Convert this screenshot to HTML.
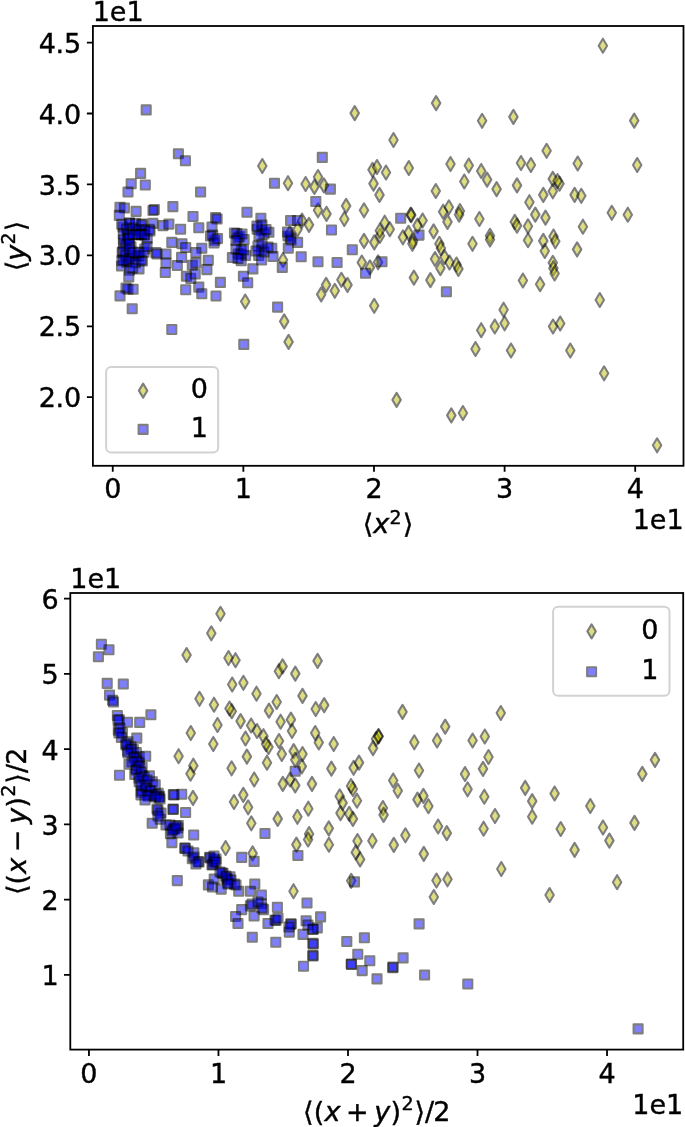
<!DOCTYPE html><html><head><meta charset="utf-8"><style>html,body{margin:0;padding:0;background:#fff;width:685px;height:1127px;overflow:hidden}svg{display:block}g.m>*{opacity:.5;stroke-linejoin:round}text{font-family:"DejaVu Sans","Liberation Sans",sans-serif;font-size:27px;fill:#000;stroke:#000;stroke-width:.4px}</style></head><body>
<svg width="685" height="1127" viewBox="0 0 685 1127">
<rect width="685" height="1127" fill="#fff"/>
<g class="m" fill="rgb(191,191,0)" stroke="#000" stroke-width="2.1">
<path d="M354.7 106.1L358.9 113.1L354.7 120.1L350.5 113.1Z"/>
<path d="M393.5 133L397.7 140L393.5 147L389.3 140Z"/>
<path d="M318 170L322.2 177L318 184L313.8 177Z"/>
<path d="M262.3 159L266.5 166L262.3 173L258.1 166Z"/>
<path d="M372.5 162.8L376.7 169.8L372.5 176.8L368.3 169.8Z"/>
<path d="M377 160L381.2 167L377 174L372.8 167Z"/>
<path d="M386 165.5L390.2 172.5L386 179.5L381.8 172.5Z"/>
<path d="M436.1 96.1L440.3 103.1L436.1 110.1L431.9 103.1Z"/>
<path d="M482.1 113.8L486.3 120.8L482.1 127.8L477.9 120.8Z"/>
<path d="M513.4 109.9L517.6 116.9L513.4 123.9L509.2 116.9Z"/>
<path d="M408.8 161L413 168L408.8 175L404.6 168Z"/>
<path d="M450.5 157L454.7 164L450.5 171L446.3 164Z"/>
<path d="M468.8 158.5L473 165.5L468.8 172.5L464.6 165.5Z"/>
<path d="M481.2 164L485.4 171L481.2 178L477 171Z"/>
<path d="M521 156L525.2 163L521 170L516.8 163Z"/>
<path d="M530.9 158L535.1 165L530.9 172L526.7 165Z"/>
<path d="M602.9 38.7L607.1 45.7L602.9 52.7L598.7 45.7Z"/>
<path d="M634.2 113.6L638.4 120.6L634.2 127.6L630 120.6Z"/>
<path d="M546.6 143.8L550.8 150.8L546.6 157.8L542.4 150.8Z"/>
<path d="M577.7 156.5L581.9 163.5L577.7 170.5L573.5 163.5Z"/>
<path d="M637.2 158L641.4 165L637.2 172L633 165Z"/>
<path d="M288 176.2L292.2 183.2L288 190.2L283.8 183.2Z"/>
<path d="M305.6 177L309.8 184L305.6 191L301.4 184Z"/>
<path d="M314.4 179.9L318.6 186.9L314.4 193.9L310.2 186.9Z"/>
<path d="M323.9 178.4L328.1 185.4L323.9 192.4L319.7 185.4Z"/>
<path d="M318 203.3L322.2 210.3L318 217.3L313.8 210.3Z"/>
<path d="M326.5 206.9L330.7 213.9L326.5 220.9L322.3 213.9Z"/>
<path d="M346.1 198.9L350.3 205.9L346.1 212.9L341.9 205.9Z"/>
<path d="M344.3 212L348.5 219L344.3 226L340.1 219Z"/>
<path d="M364 203.3L368.2 210.3L364 217.3L359.8 210.3Z"/>
<path d="M373.5 176.6L377.7 183.6L373.5 190.6L369.3 183.6Z"/>
<path d="M379.5 187.9L383.7 194.9L379.5 201.9L375.3 194.9Z"/>
<path d="M302 213.5L306.2 220.5L302 227.5L297.8 220.5Z"/>
<path d="M309 217.9L313.2 224.9L309 231.9L304.8 224.9Z"/>
<path d="M297.6 222.2L301.8 229.2L297.6 236.2L293.4 229.2Z"/>
<path d="M289.6 226.6L293.8 233.6L289.6 240.6L285.4 233.6Z"/>
<path d="M364 233.9L368.2 240.9L364 247.9L359.8 240.9Z"/>
<path d="M374.3 235.4L378.5 242.4L374.3 249.4L370.1 242.4Z"/>
<path d="M380 228.8L384.2 235.8L380 242.8L375.8 235.8Z"/>
<path d="M379.8 223.7L384 230.7L379.8 237.7L375.6 230.7Z"/>
<path d="M361.8 255.5L366 262.5L361.8 269.5L357.6 262.5Z"/>
<path d="M283 253L287.2 260L283 267L278.8 260Z"/>
<path d="M435.8 184L440 191L435.8 198L431.6 191Z"/>
<path d="M464.3 174.5L468.5 181.5L464.3 188.5L460.1 181.5Z"/>
<path d="M410.7 207.6L414.9 214.6L410.7 221.6L406.5 214.6Z"/>
<path d="M411.2 208.1L415.4 215.1L411.2 222.1L407 215.1Z"/>
<path d="M422.6 213.5L426.8 220.5L422.6 227.5L418.4 220.5Z"/>
<path d="M417.5 218.6L421.7 225.6L417.5 232.6L413.3 225.6Z"/>
<path d="M408.5 225.9L412.7 232.9L408.5 239.9L404.3 232.9Z"/>
<path d="M402.9 230.3L407.1 237.3L402.9 244.3L398.7 237.3Z"/>
<path d="M413.1 233.9L417.3 240.9L413.1 247.9L408.9 240.9Z"/>
<path d="M412.4 236.8L416.6 243.8L412.4 250.8L408.2 243.8Z"/>
<path d="M384.7 215.7L388.9 222.7L384.7 229.7L380.5 222.7Z"/>
<path d="M389.8 222.2L394 229.2L389.8 236.2L385.6 229.2Z"/>
<path d="M433.6 224.4L437.8 231.4L433.6 238.4L429.4 231.4Z"/>
<path d="M443.1 204.7L447.3 211.7L443.1 218.7L438.9 211.7Z"/>
<path d="M448.9 200.3L453.1 207.3L448.9 214.3L444.7 207.3Z"/>
<path d="M447.5 214.9L451.7 221.9L447.5 228.9L443.3 221.9Z"/>
<path d="M459.9 204L464.1 211L459.9 218L455.7 211Z"/>
<path d="M459.1 207.6L463.3 214.6L459.1 221.6L454.9 214.6Z"/>
<path d="M439.4 236.8L443.6 243.8L439.4 250.8L435.2 243.8Z"/>
<path d="M440.9 241.2L445.1 248.2L440.9 255.2L436.7 248.2Z"/>
<path d="M435 252L439.2 259L435 266L430.8 259Z"/>
<path d="M444.5 250L448.7 257L444.5 264L440.3 257Z"/>
<path d="M449.5 255.5L453.7 262.5L449.5 269.5L445.3 262.5Z"/>
<path d="M456.5 257.5L460.7 264.5L456.5 271.5L452.3 264.5Z"/>
<path d="M458.4 261.9L462.6 268.9L458.4 275.9L454.2 268.9Z"/>
<path d="M472.5 236.8L476.7 243.8L472.5 250.8L468.3 243.8Z"/>
<path d="M487.1 172.6L491.3 179.6L487.1 186.6L482.9 179.6Z"/>
<path d="M496.6 182.1L500.8 189.1L496.6 196.1L492.4 189.1Z"/>
<path d="M517 178.4L521.2 185.4L517 192.4L512.8 185.4Z"/>
<path d="M552.8 171.9L557 178.9L552.8 185.9L548.6 178.9Z"/>
<path d="M559.5 176.6L563.7 183.6L559.5 190.6L555.3 183.6Z"/>
<path d="M557.5 174L561.7 181L557.5 188L553.3 181Z"/>
<path d="M543.3 187.9L547.5 194.9L543.3 201.9L539.1 194.9Z"/>
<path d="M552.8 184.3L557 191.3L552.8 198.3L548.6 191.3Z"/>
<path d="M529.4 195.2L533.6 202.2L529.4 209.2L525.2 202.2Z"/>
<path d="M535.3 207.6L539.5 214.6L535.3 221.6L531.1 214.6Z"/>
<path d="M545.5 210.6L549.7 217.6L545.5 224.6L541.3 217.6Z"/>
<path d="M479.4 212L483.6 219L479.4 226L475.2 219Z"/>
<path d="M514.8 214.9L519 221.9L514.8 228.9L510.6 221.9Z"/>
<path d="M517 218.6L521.2 225.6L517 232.6L512.8 225.6Z"/>
<path d="M528 219.3L532.2 226.3L528 233.3L523.8 226.3Z"/>
<path d="M490 228.8L494.2 235.8L490 242.8L485.8 235.8Z"/>
<path d="M490 232.5L494.2 239.5L490 246.5L485.8 239.5Z"/>
<path d="M528 233.2L532.2 240.2L528 247.2L523.8 240.2Z"/>
<path d="M543.3 233.9L547.5 240.9L543.3 247.9L539.1 240.9Z"/>
<path d="M544.8 244L549 251L544.8 258L540.6 251Z"/>
<path d="M553.5 229.5L557.7 236.5L553.5 243.5L549.3 236.5Z"/>
<path d="M555.3 234.3L559.5 241.3L555.3 248.3L551.1 241.3Z"/>
<path d="M552.8 255.8L557 262.8L552.8 269.8L548.6 262.8Z"/>
<path d="M574.6 187.9L578.8 194.9L574.6 201.9L570.4 194.9Z"/>
<path d="M581.3 188.8L585.5 195.8L581.3 202.8L577.1 195.8Z"/>
<path d="M611.8 205.8L616 212.8L611.8 219.8L607.6 212.8Z"/>
<path d="M627.8 207.7L632 214.7L627.8 221.7L623.6 214.7Z"/>
<path d="M582.9 219.7L587.1 226.7L582.9 233.7L578.7 226.7Z"/>
<path d="M577.1 242.4L581.3 249.4L577.1 256.4L572.9 249.4Z"/>
<path d="M553.4 261.2L557.6 268.2L553.4 275.2L549.2 268.2Z"/>
<path d="M554.6 266.5L558.8 273.5L554.6 280.5L550.4 273.5Z"/>
<path d="M599.8 293L604 300L599.8 307L595.6 300Z"/>
<path d="M245.2 294.5L249.4 301.5L245.2 308.5L241 301.5Z"/>
<path d="M284.2 314.4L288.4 321.4L284.2 328.4L280 321.4Z"/>
<path d="M288.6 334.9L292.8 341.9L288.6 348.9L284.4 341.9Z"/>
<path d="M369.9 260.4L374.1 267.4L369.9 274.4L365.7 267.4Z"/>
<path d="M326.1 277.9L330.3 284.9L326.1 291.9L321.9 284.9Z"/>
<path d="M321.2 287.4L325.4 294.4L321.2 301.4L317 294.4Z"/>
<path d="M334.8 283.8L339 290.8L334.8 297.8L330.6 290.8Z"/>
<path d="M341.4 272.8L345.6 279.8L341.4 286.8L337.2 279.8Z"/>
<path d="M347.5 277.9L351.7 284.9L347.5 291.9L343.3 284.9Z"/>
<path d="M374.2 298.8L378.4 305.8L374.2 312.8L370 305.8Z"/>
<path d="M378.1 255.3L382.3 262.3L378.1 269.3L373.9 262.3Z"/>
<path d="M413.9 270.6L418.1 277.6L413.9 284.6L409.7 277.6Z"/>
<path d="M430.4 273.1L434.6 280.1L430.4 287.1L426.2 280.1Z"/>
<path d="M440.4 261.1L444.6 268.1L440.4 275.1L436.2 268.1Z"/>
<path d="M475.5 342L479.7 349L475.5 356L471.3 349Z"/>
<path d="M522.9 273.5L527.1 280.5L522.9 287.5L518.7 280.5Z"/>
<path d="M540.1 277.2L544.3 284.2L540.1 291.2L535.9 284.2Z"/>
<path d="M503.6 302.7L507.8 309.7L503.6 316.7L499.4 309.7Z"/>
<path d="M504.6 316.3L508.8 323.3L504.6 330.3L500.4 323.3Z"/>
<path d="M494.8 319.5L499 326.5L494.8 333.5L490.6 326.5Z"/>
<path d="M481.2 323.2L485.4 330.2L481.2 337.2L477 330.2Z"/>
<path d="M511 343.5L515.2 350.5L511 357.5L506.8 350.5Z"/>
<path d="M553 319.5L557.2 326.5L553 333.5L548.8 326.5Z"/>
<path d="M560.2 316.5L564.4 323.5L560.2 330.5L556 323.5Z"/>
<path d="M570.3 343.5L574.5 350.5L570.3 357.5L566.1 350.5Z"/>
<path d="M604.1 366.3L608.3 373.3L604.1 380.3L599.9 373.3Z"/>
<path d="M657.1 438.3L661.3 445.3L657.1 452.3L652.9 445.3Z"/>
<path d="M396.6 392.9L400.8 399.9L396.6 406.9L392.4 399.9Z"/>
<path d="M451.3 408.4L455.5 415.4L451.3 422.4L447.1 415.4Z"/>
<path d="M462.9 406L467.1 413L462.9 420L458.7 413Z"/>
</g>
<g class="m" fill="#00f" stroke="#000" stroke-width="2.1">
<rect x="141.7" y="105.4" width="9" height="9"/>
<rect x="173.9" y="149.2" width="9" height="9"/>
<rect x="180.9" y="156.2" width="9" height="9"/>
<rect x="136.1" y="168.9" width="9" height="9"/>
<rect x="317.8" y="152.9" width="9" height="9"/>
<rect x="126.7" y="179.2" width="9" height="9"/>
<rect x="140.8" y="180.5" width="9" height="9"/>
<rect x="123.5" y="187.5" width="9" height="9"/>
<rect x="168.4" y="202.1" width="9" height="9"/>
<rect x="115.5" y="202.8" width="9" height="9"/>
<rect x="119.9" y="203.5" width="9" height="9"/>
<rect x="131.6" y="206.9" width="9" height="9"/>
<rect x="149.8" y="205" width="9" height="9"/>
<rect x="148.5" y="206" width="9" height="9"/>
<rect x="114.8" y="210.9" width="9" height="9"/>
<rect x="188.5" y="212" width="9" height="9"/>
<rect x="125" y="218.9" width="9" height="9"/>
<rect x="118.5" y="222.5" width="9" height="9"/>
<rect x="136.7" y="220.4" width="9" height="9"/>
<rect x="148.4" y="218.9" width="9" height="9"/>
<rect x="158.5" y="221.1" width="9" height="9"/>
<rect x="164.4" y="219.6" width="9" height="9"/>
<rect x="176.1" y="224.7" width="9" height="9"/>
<rect x="144.7" y="224.7" width="9" height="9"/>
<rect x="132.3" y="226.2" width="9" height="9"/>
<rect x="139.6" y="230.5" width="9" height="9"/>
<rect x="123.5" y="230.5" width="9" height="9"/>
<rect x="119.2" y="239.3" width="9" height="9"/>
<rect x="126.5" y="242.3" width="9" height="9"/>
<rect x="167.3" y="237.9" width="9" height="9"/>
<rect x="177.5" y="239.3" width="9" height="9"/>
<rect x="181.2" y="243" width="9" height="9"/>
<rect x="151.3" y="248.1" width="9" height="9"/>
<rect x="161.5" y="249.5" width="9" height="9"/>
<rect x="140.3" y="244.5" width="9" height="9"/>
<rect x="117.7" y="248.1" width="9" height="9"/>
<rect x="132.3" y="251" width="9" height="9"/>
<rect x="119.2" y="255.4" width="9" height="9"/>
<rect x="125" y="253.9" width="9" height="9"/>
<rect x="136.7" y="255.4" width="9" height="9"/>
<rect x="161.5" y="258.5" width="9" height="9"/>
<rect x="177.1" y="252.9" width="9" height="9"/>
<rect x="172.8" y="261" width="9" height="9"/>
<rect x="270" y="178.7" width="9" height="9"/>
<rect x="196.1" y="187.5" width="9" height="9"/>
<rect x="242.5" y="207.7" width="9" height="9"/>
<rect x="211.1" y="213.1" width="9" height="9"/>
<rect x="212.6" y="214.5" width="9" height="9"/>
<rect x="194.3" y="223.3" width="9" height="9"/>
<rect x="207.5" y="222.5" width="9" height="9"/>
<rect x="210.4" y="235.7" width="9" height="9"/>
<rect x="208.2" y="230.5" width="9" height="9"/>
<rect x="256.4" y="213.8" width="9" height="9"/>
<rect x="257.1" y="226.2" width="9" height="9"/>
<rect x="252.7" y="224.7" width="9" height="9"/>
<rect x="264.4" y="227.7" width="9" height="9"/>
<rect x="235.2" y="232" width="9" height="9"/>
<rect x="239.6" y="235" width="9" height="9"/>
<rect x="232.3" y="229.1" width="9" height="9"/>
<rect x="236.7" y="245.2" width="9" height="9"/>
<rect x="233.8" y="249.5" width="9" height="9"/>
<rect x="241.1" y="251" width="9" height="9"/>
<rect x="227.9" y="253" width="9" height="9"/>
<rect x="257.1" y="245.2" width="9" height="9"/>
<rect x="267.3" y="243.7" width="9" height="9"/>
<rect x="254.2" y="251" width="9" height="9"/>
<rect x="257.1" y="255.5" width="9" height="9"/>
<rect x="268.5" y="252" width="9" height="9"/>
<rect x="286.1" y="216" width="9" height="9"/>
<rect x="293.1" y="216" width="9" height="9"/>
<rect x="283.8" y="243.7" width="9" height="9"/>
<rect x="197.3" y="243.7" width="9" height="9"/>
<rect x="191.4" y="248.1" width="9" height="9"/>
<rect x="203.8" y="255.8" width="9" height="9"/>
<rect x="325.9" y="184.6" width="9" height="9"/>
<rect x="311.3" y="197" width="9" height="9"/>
<rect x="285.8" y="233.5" width="9" height="9"/>
<rect x="293.1" y="237.9" width="9" height="9"/>
<rect x="296.7" y="252.2" width="9" height="9"/>
<rect x="327" y="225.5" width="9" height="9"/>
<rect x="347.8" y="245.2" width="9" height="9"/>
<rect x="313.5" y="257.2" width="9" height="9"/>
<rect x="332.6" y="258" width="9" height="9"/>
<rect x="377.5" y="257.3" width="9" height="9"/>
<rect x="396.2" y="213.8" width="9" height="9"/>
<rect x="414.5" y="230.6" width="9" height="9"/>
<rect x="117" y="261.5" width="9" height="9"/>
<rect x="122.1" y="257.8" width="9" height="9"/>
<rect x="125" y="265.8" width="9" height="9"/>
<rect x="134.5" y="264.4" width="9" height="9"/>
<rect x="124.3" y="272.4" width="9" height="9"/>
<rect x="123.5" y="284.8" width="9" height="9"/>
<rect x="121.5" y="283.5" width="9" height="9"/>
<rect x="128.6" y="284.8" width="9" height="9"/>
<rect x="115.5" y="291.4" width="9" height="9"/>
<rect x="127.7" y="304.3" width="9" height="9"/>
<rect x="167.3" y="325" width="9" height="9"/>
<rect x="160.8" y="268" width="9" height="9"/>
<rect x="181.9" y="271.7" width="9" height="9"/>
<rect x="186.3" y="273.9" width="9" height="9"/>
<rect x="181.2" y="285.2" width="9" height="9"/>
<rect x="187.8" y="260.7" width="9" height="9"/>
<rect x="202.4" y="265.1" width="9" height="9"/>
<rect x="191.4" y="258.5" width="9" height="9"/>
<rect x="190.7" y="269.5" width="9" height="9"/>
<rect x="194.3" y="282.6" width="9" height="9"/>
<rect x="197.3" y="289.2" width="9" height="9"/>
<rect x="215.9" y="277.9" width="9" height="9"/>
<rect x="211.5" y="291.5" width="9" height="9"/>
<rect x="236.7" y="256.3" width="9" height="9"/>
<rect x="248.4" y="264.4" width="9" height="9"/>
<rect x="238.9" y="271.7" width="9" height="9"/>
<rect x="243.2" y="278.2" width="9" height="9"/>
<rect x="277.8" y="262.9" width="9" height="9"/>
<rect x="273.1" y="302.6" width="9" height="9"/>
<rect x="239.3" y="339.9" width="9" height="9"/>
<rect x="361" y="268.7" width="9" height="9"/>
<rect x="441.9" y="287.3" width="9" height="9"/>
<rect x="117.27" y="219.69" width="9" height="9"/>
<rect x="125.03" y="218.51" width="9" height="9"/>
<rect x="130.99" y="218.9" width="9" height="9"/>
<rect x="137.8" y="219.58" width="9" height="9"/>
<rect x="121.92" y="224.52" width="9" height="9"/>
<rect x="128.27" y="223.66" width="9" height="9"/>
<rect x="134.14" y="225.1" width="9" height="9"/>
<rect x="140.21" y="225.55" width="9" height="9"/>
<rect x="118.8" y="229.37" width="9" height="9"/>
<rect x="123.55" y="230.39" width="9" height="9"/>
<rect x="131.88" y="230.07" width="9" height="9"/>
<rect x="136.93" y="230.15" width="9" height="9"/>
<rect x="118.91" y="235.4" width="9" height="9"/>
<rect x="123.61" y="233.67" width="9" height="9"/>
<rect x="121.46" y="240.37" width="9" height="9"/>
<rect x="118.45" y="246.8" width="9" height="9"/>
<rect x="121.18" y="251.1" width="9" height="9"/>
<rect x="127.51" y="252.25" width="9" height="9"/>
<rect x="134.3" y="251.59" width="9" height="9"/>
<rect x="117.47" y="256.17" width="9" height="9"/>
<rect x="124.15" y="256.39" width="9" height="9"/>
<rect x="131.02" y="258.12" width="9" height="9"/>
<rect x="137.85" y="256.48" width="9" height="9"/>
<rect x="128.22" y="263.59" width="9" height="9"/>
<rect x="124.8" y="234" width="9" height="9"/>
<rect x="124.8" y="239.5" width="9" height="9"/>
<rect x="124.8" y="245" width="9" height="9"/>
<rect x="142.7" y="234" width="9" height="9"/>
<rect x="128.5" y="230.1" width="9" height="9"/>
<rect x="134.5" y="230.1" width="9" height="9"/>
<rect x="140" y="230.1" width="9" height="9"/>
<rect x="128.5" y="247.8" width="9" height="9"/>
<rect x="134.5" y="247.8" width="9" height="9"/>
<rect x="139.5" y="247.8" width="9" height="9"/>
<rect x="145.5" y="226.5" width="9" height="9"/>
<rect x="206" y="231.5" width="9" height="9"/>
<rect x="209.5" y="238.5" width="9" height="9"/>
<rect x="213" y="234" width="9" height="9"/>
<rect x="230" y="228.5" width="9" height="9"/>
<rect x="233.5" y="233.5" width="9" height="9"/>
<rect x="237.5" y="229.5" width="9" height="9"/>
<rect x="231.5" y="236" width="9" height="9"/>
<rect x="231.5" y="244.5" width="9" height="9"/>
<rect x="236.5" y="249.5" width="9" height="9"/>
<rect x="233.5" y="254" width="9" height="9"/>
<rect x="239" y="245.5" width="9" height="9"/>
<rect x="252.5" y="221.5" width="9" height="9"/>
<rect x="257.5" y="220.5" width="9" height="9"/>
<rect x="259.5" y="229.5" width="9" height="9"/>
<rect x="254.5" y="231.5" width="9" height="9"/>
<rect x="261.5" y="225" width="9" height="9"/>
<rect x="253.5" y="241.5" width="9" height="9"/>
<rect x="259.5" y="247.5" width="9" height="9"/>
<rect x="257.5" y="239.5" width="9" height="9"/>
<rect x="263.5" y="242.5" width="9" height="9"/>
<rect x="251.5" y="246.5" width="9" height="9"/>
<rect x="283.5" y="231.5" width="9" height="9"/>
<rect x="286.5" y="235.5" width="9" height="9"/>
<rect x="283" y="227.5" width="9" height="9"/>
<rect x="152.5" y="249.5" width="9" height="9"/>
<rect x="142.5" y="242" width="9" height="9"/>
</g>
<rect x="92.9" y="26" width="590.6" height="439.8" fill="none" stroke="#000" stroke-width="1.8"/>
<path d="M112.74 465.8v6M243.36 465.8v6M373.98 465.8v6M504.6 465.8v6M635.22 465.8v6M92.9 42.6h-6M92.9 113.52h-6M92.9 184.44h-6M92.9 255.36h-6M92.9 326.28h-6M92.9 397.2h-6" stroke="#000" stroke-width="1.8" fill="none"/>
<g font-size="27"><text x="112.74" y="497.9" text-anchor="middle" font-size="27">0</text><text x="243.36" y="497.9" text-anchor="middle" font-size="27">1</text><text x="373.98" y="497.9" text-anchor="middle" font-size="27">2</text><text x="504.6" y="497.9" text-anchor="middle" font-size="27">3</text><text x="635.22" y="497.9" text-anchor="middle" font-size="27">4</text><text x="80.9" y="52.7" text-anchor="end" font-size="27" letter-spacing="-0.25">4.5</text><text x="80.9" y="123.62" text-anchor="end" font-size="27" letter-spacing="-0.25">4.0</text><text x="80.9" y="194.54" text-anchor="end" font-size="27" letter-spacing="-0.25">3.5</text><text x="80.9" y="265.46" text-anchor="end" font-size="27" letter-spacing="-0.25">3.0</text><text x="80.9" y="336.38" text-anchor="end" font-size="27" letter-spacing="-0.25">2.5</text><text x="80.9" y="407.3" text-anchor="end" font-size="27" letter-spacing="-0.25">2.0</text><text x="92.7" y="21.2" font-size="27">1e1</text><text x="683.6" y="528.7" text-anchor="end" font-size="27">1e1</text></g>
<rect x="106.1" y="366.9" width="112.1" height="85.6" rx="5" ry="5" fill="#fff" fill-opacity="0.8" stroke="#d2d2d2" stroke-width="2"/>
<g class="m" fill="rgb(191,191,0)" stroke="#000" stroke-width="2.1"><path d="M143.1 383.6L147.3 390.6L143.1 397.6L138.9 390.6Z"/></g>
<g class="m" fill="#00f" stroke="#000" stroke-width="2.1"><rect x="138.6" y="424.9" width="9" height="9"/></g>
<text x="190.7" y="398.3" font-size="27">0</text>
<text x="190.7" y="437" font-size="27">1</text>
<text font-size="27"><tspan x="362.75" y="533.3">⟨</tspan><tspan x="402.73" y="533.3">⟩</tspan><tspan x="373.28" y="533.3" font-style="oblique">x</tspan><tspan x="389.47" y="523.56" font-size="18.9">2</tspan></text>
<g transform="translate(24.5 271.3) rotate(-90)"><text font-size="27"><tspan x="0" y="0">⟨</tspan><tspan x="39.98" y="0">⟩</tspan><tspan x="10.53" y="0" font-style="oblique">y</tspan><tspan x="26.72" y="-9.74" font-size="18.9">2</tspan></text></g>
<g class="m" fill="rgb(191,191,0)" stroke="#000" stroke-width="2.1">
<path d="M220.5 606.8L224.7 613.8L220.5 620.8L216.3 613.8Z"/>
<path d="M211.3 626.3L215.5 633.3L211.3 640.3L207.1 633.3Z"/>
<path d="M186.6 648L190.8 655L186.6 662L182.4 655Z"/>
<path d="M199.5 691.8L203.7 698.8L199.5 705.8L195.3 698.8Z"/>
<path d="M214 697.7L218.2 704.7L214 711.7L209.8 704.7Z"/>
<path d="M217.5 718L221.7 725L217.5 732L213.3 725Z"/>
<path d="M190.8 726L195 733L190.8 740L186.6 733Z"/>
<path d="M213.3 737L217.5 744L213.3 751L209.1 744Z"/>
<path d="M228.5 651L232.7 658L228.5 665L224.3 658Z"/>
<path d="M235.5 653.2L239.7 660.2L235.5 667.2L231.3 660.2Z"/>
<path d="M278.9 664.2L283.1 671.2L278.9 678.2L274.7 671.2Z"/>
<path d="M282.6 659.4L286.8 666.4L282.6 673.4L278.4 666.4Z"/>
<path d="M295.3 666.6L299.5 673.6L295.3 680.6L291.1 673.6Z"/>
<path d="M317.6 653.9L321.8 660.9L317.6 667.9L313.4 660.9Z"/>
<path d="M232.2 677.5L236.4 684.5L232.2 691.5L228 684.5Z"/>
<path d="M243.4 675.8L247.6 682.8L243.4 689.8L239.2 682.8Z"/>
<path d="M256.5 686.7L260.7 693.7L256.5 700.7L252.3 693.7Z"/>
<path d="M276.7 695L280.9 702L276.7 709L272.5 702Z"/>
<path d="M269 703.6L273.2 710.6L269 717.6L264.8 710.6Z"/>
<path d="M302.5 688.9L306.7 695.9L302.5 702.9L298.3 695.9Z"/>
<path d="M315.7 702L319.9 709L315.7 716L311.5 709Z"/>
<path d="M324.2 698.1L328.4 705.1L324.2 712.1L320 705.1Z"/>
<path d="M231.8 704.2L236 711.2L231.8 718.2L227.6 711.2Z"/>
<path d="M229.5 701.5L233.7 708.5L229.5 715.5L225.3 708.5Z"/>
<path d="M240.6 714.1L244.8 721.1L240.6 728.1L236.4 721.1Z"/>
<path d="M251.1 718.5L255.3 725.5L251.1 732.5L246.9 725.5Z"/>
<path d="M257 724L261.2 731L257 738L252.8 731Z"/>
<path d="M263.5 729.2L267.7 736.2L263.5 743.2L259.3 736.2Z"/>
<path d="M245.5 731.5L249.7 738.5L245.5 745.5L241.3 738.5Z"/>
<path d="M280.6 714.7L284.8 721.7L280.6 728.7L276.4 721.7Z"/>
<path d="M290.9 712.6L295.1 719.6L290.9 726.6L286.7 719.6Z"/>
<path d="M292 724L296.2 731L292 738L287.8 731Z"/>
<path d="M315.2 726L319.4 733L315.2 740L311 733Z"/>
<path d="M279 734L283.2 741L279 748L274.8 741Z"/>
<path d="M318.8 735.5L323 742.5L318.8 749.5L314.6 742.5Z"/>
<path d="M333.7 737L337.9 744L333.7 751L329.5 744Z"/>
<path d="M402.5 704.9L406.7 711.9L402.5 718.9L398.3 711.9Z"/>
<path d="M445.2 719.6L449.4 726.6L445.2 733.6L441 726.6Z"/>
<path d="M378.4 729.4L382.6 736.4L378.4 743.4L374.2 736.4Z"/>
<path d="M376 732L380.2 739L376 746L371.8 739Z"/>
<path d="M378.6 729.2L382.8 736.2L378.6 743.2L374.4 736.2Z"/>
<path d="M414.3 735.3L418.5 742.3L414.3 749.3L410.1 742.3Z"/>
<path d="M437.1 733.5L441.3 740.5L437.1 747.5L432.9 740.5Z"/>
<path d="M472.6 733.5L476.8 740.5L472.6 747.5L468.4 740.5Z"/>
<path d="M484.8 729.5L489 736.5L484.8 743.5L480.6 736.5Z"/>
<path d="M500.8 706L505 713L500.8 720L496.6 713Z"/>
<path d="M488.5 750L492.7 757L488.5 764L484.3 757Z"/>
<path d="M655 752.9L659.2 759.9L655 766.9L650.8 759.9Z"/>
<path d="M642.3 766.9L646.5 773.9L642.3 780.9L638.1 773.9Z"/>
<path d="M525.2 780.9L529.4 787.9L525.2 794.9L521 787.9Z"/>
<path d="M532.2 794.1L536.4 801.1L532.2 808.1L528 801.1Z"/>
<path d="M554.6 786.5L558.8 793.5L554.6 800.5L550.4 793.5Z"/>
<path d="M590.3 799L594.5 806L590.3 813L586.1 806Z"/>
<path d="M495 809L499.2 816L495 823L490.8 816Z"/>
<path d="M532.2 809.7L536.4 816.7L532.2 823.7L528 816.7Z"/>
<path d="M560.7 822L564.9 829L560.7 836L556.5 829Z"/>
<path d="M603 820.5L607.2 827.5L603 834.5L598.8 827.5Z"/>
<path d="M634.5 815.9L638.7 822.9L634.5 829.9L630.3 822.9Z"/>
<path d="M178.6 749.2L182.8 756.2L178.6 763.2L174.4 756.2Z"/>
<path d="M193.3 758.7L197.5 765.7L193.3 772.7L189.1 765.7Z"/>
<path d="M190.5 766.7L194.7 773.7L190.5 780.7L186.3 773.7Z"/>
<path d="M193 790.9L197.2 797.9L193 804.9L188.8 797.9Z"/>
<path d="M231.6 761.3L235.8 768.3L231.6 775.3L227.4 768.3Z"/>
<path d="M246.9 749.6L251.1 756.6L246.9 763.6L242.7 756.6Z"/>
<path d="M268.5 740L272.7 747L268.5 754L264.3 747Z"/>
<path d="M266 737L270.2 744L266 751L261.8 744Z"/>
<path d="M267 755.7L271.2 762.7L267 769.7L262.8 762.7Z"/>
<path d="M254.2 772.5L258.4 779.5L254.2 786.5L250 779.5Z"/>
<path d="M243.3 787.9L247.5 794.9L243.3 801.9L239.1 794.9Z"/>
<path d="M234 795L238.2 802L234 809L229.8 802Z"/>
<path d="M248.1 800.3L252.3 807.3L248.1 814.3L243.9 807.3Z"/>
<path d="M251.3 816.3L255.5 823.3L251.3 830.3L247.1 823.3Z"/>
<path d="M281.8 747L286 754L281.8 761L277.6 754Z"/>
<path d="M293.7 744.1L297.9 751.1L293.7 758.1L289.5 751.1Z"/>
<path d="M302.5 747L306.7 754L302.5 761L298.3 754Z"/>
<path d="M295.2 752.8L299.4 759.8L295.2 766.8L291 759.8Z"/>
<path d="M301.8 759.4L306 766.4L301.8 773.4L297.6 766.4Z"/>
<path d="M290.1 772.5L294.3 779.5L290.1 786.5L285.9 779.5Z"/>
<path d="M282.8 776.9L287 783.9L282.8 790.9L278.6 783.9Z"/>
<path d="M295.2 778.4L299.4 785.4L295.2 792.4L291 785.4Z"/>
<path d="M312 776.9L316.2 783.9L312 790.9L307.8 783.9Z"/>
<path d="M331.4 761.6L335.6 768.6L331.4 775.6L327.2 768.6Z"/>
<path d="M353.6 760.8L357.8 767.8L353.6 774.8L349.4 767.8Z"/>
<path d="M359 755.6L363.2 762.6L359 769.6L354.8 762.6Z"/>
<path d="M352.9 782L357.1 789L352.9 796L348.7 789Z"/>
<path d="M351 779L355.2 786L351 793L346.8 786Z"/>
<path d="M357 793.7L361.2 800.7L357 807.7L352.8 800.7Z"/>
<path d="M339.7 789.3L343.9 796.3L339.7 803.3L335.5 796.3Z"/>
<path d="M342.6 795.9L346.8 802.9L342.6 809.9L338.4 802.9Z"/>
<path d="M340.5 806.1L344.7 813.1L340.5 820.1L336.3 813.1Z"/>
<path d="M349.2 806.8L353.4 813.8L349.2 820.8L345 813.8Z"/>
<path d="M352.9 811.9L357.1 818.9L352.9 825.9L348.7 818.9Z"/>
<path d="M308.3 801.7L312.5 808.7L308.3 815.7L304.1 808.7Z"/>
<path d="M297.4 809.8L301.6 816.8L297.4 823.8L293.2 816.8Z"/>
<path d="M277.7 811.9L281.9 818.9L277.7 825.9L273.5 818.9Z"/>
<path d="M328.8 821.4L333 828.4L328.8 835.4L324.6 828.4Z"/>
<path d="M328.9 837.7L333.1 844.7L328.9 851.7L324.7 844.7Z"/>
<path d="M309.1 827L313.3 834L309.1 841L304.9 834Z"/>
<path d="M373 741.1L377.2 748.1L373 755.1L368.8 748.1Z"/>
<path d="M483 761.9L487.2 768.9L483 775.9L478.8 768.9Z"/>
<path d="M465 767L469.2 774L465 781L460.8 774Z"/>
<path d="M467.6 782.3L471.8 789.3L467.6 796.3L463.4 789.3Z"/>
<path d="M484.3 789.7L488.5 796.7L484.3 803.7L480.1 796.7Z"/>
<path d="M483.6 821.7L487.8 828.7L483.6 835.7L479.4 828.7Z"/>
<path d="M419 763.5L423.2 770.5L419 777.5L414.8 770.5Z"/>
<path d="M393.2 773.5L397.4 780.5L393.2 787.5L389 780.5Z"/>
<path d="M397.8 783.8L402 790.8L397.8 797.8L393.6 790.8Z"/>
<path d="M417.5 792.6L421.7 799.6L417.5 806.6L413.3 799.6Z"/>
<path d="M423.4 788.9L427.6 795.9L423.4 802.9L419.2 795.9Z"/>
<path d="M428.4 799.2L432.6 806.2L428.4 813.2L424.2 806.2Z"/>
<path d="M382.9 801L387.1 808L382.9 815L378.7 808Z"/>
<path d="M383.6 807.9L387.8 814.9L383.6 821.9L379.4 814.9Z"/>
<path d="M438.1 819.5L442.3 826.5L438.1 833.5L433.9 826.5Z"/>
<path d="M446.8 826.1L451 833.1L446.8 840.1L442.6 833.1Z"/>
<path d="M372.4 833.8L376.6 840.8L372.4 847.8L368.2 840.8Z"/>
<path d="M393.8 837.9L398 844.9L393.8 851.9L389.6 844.9Z"/>
<path d="M405.4 828.3L409.6 835.3L405.4 842.3L401.2 835.3Z"/>
<path d="M357.5 834L361.7 841L357.5 848L353.3 841Z"/>
<path d="M360.1 852.4L364.3 859.4L360.1 866.4L355.9 859.4Z"/>
<path d="M355.8 845.4L360 852.4L355.8 859.4L351.6 852.4Z"/>
<path d="M423.8 846.9L428 853.9L423.8 860.9L419.6 853.9Z"/>
<path d="M436.5 873.5L440.7 880.5L436.5 887.5L432.3 880.5Z"/>
<path d="M447.5 872.3L451.7 879.3L447.5 886.3L443.3 879.3Z"/>
<path d="M501.3 862L505.5 869L501.3 876L497.1 869Z"/>
<path d="M574.6 842.9L578.8 849.9L574.6 856.9L570.4 849.9Z"/>
<path d="M609.4 833.6L613.6 840.6L609.4 847.6L605.2 840.6Z"/>
<path d="M617.1 875.2L621.3 882.2L617.1 889.2L612.9 882.2Z"/>
<path d="M549.6 888L553.8 895L549.6 902L545.4 895Z"/>
<path d="M225.6 841L229.8 848L225.6 855L221.4 848Z"/>
<path d="M252.6 846.4L256.8 853.4L252.6 860.4L248.4 853.4Z"/>
<path d="M296.4 837.6L300.6 844.6L296.4 851.6L292.2 844.6Z"/>
<path d="M308.1 832.5L312.3 839.5L308.1 846.5L303.9 839.5Z"/>
<path d="M293.5 884.2L297.7 891.2L293.5 898.2L289.3 891.2Z"/>
<path d="M351.2 873.8L355.4 880.8L351.2 887.8L347 880.8Z"/>
<path d="M433.8 890L438 897L433.8 904L429.6 897Z"/>
</g>
<g class="m" fill="#00f" stroke="#000" stroke-width="2.1">
<rect x="96.9" y="639.8" width="9" height="9"/>
<rect x="104.5" y="645.3" width="9" height="9"/>
<rect x="93.9" y="652.3" width="9" height="9"/>
<rect x="102.7" y="678.9" width="9" height="9"/>
<rect x="118.8" y="679.5" width="9" height="9"/>
<rect x="105" y="690.6" width="9" height="9"/>
<rect x="108.1" y="695.8" width="9" height="9"/>
<rect x="109" y="697.5" width="9" height="9"/>
<rect x="112.9" y="711" width="9" height="9"/>
<rect x="114.8" y="715.3" width="9" height="9"/>
<rect x="123" y="717.7" width="9" height="9"/>
<rect x="135.2" y="717.9" width="9" height="9"/>
<rect x="146.4" y="710.3" width="9" height="9"/>
<rect x="113.8" y="725.8" width="9" height="9"/>
<rect x="117.9" y="728.3" width="9" height="9"/>
<rect x="116.9" y="733" width="9" height="9"/>
<rect x="132.3" y="733.6" width="9" height="9"/>
<rect x="123.4" y="737.4" width="9" height="9"/>
<rect x="121.5" y="739.3" width="9" height="9"/>
<rect x="126.6" y="742.2" width="9" height="9"/>
<rect x="128.8" y="745.1" width="9" height="9"/>
<rect x="123" y="746.6" width="9" height="9"/>
<rect x="131.8" y="748.1" width="9" height="9"/>
<rect x="134.7" y="752.4" width="9" height="9"/>
<rect x="130.3" y="753.9" width="9" height="9"/>
<rect x="141.2" y="751.7" width="9" height="9"/>
<rect x="124.5" y="759.7" width="9" height="9"/>
<rect x="134.7" y="758.3" width="9" height="9"/>
<rect x="131.8" y="764.1" width="9" height="9"/>
<rect x="137.6" y="762.7" width="9" height="9"/>
<rect x="130.3" y="770" width="9" height="9"/>
<rect x="137.6" y="771.4" width="9" height="9"/>
<rect x="144.9" y="771.4" width="9" height="9"/>
<rect x="147.8" y="777.3" width="9" height="9"/>
<rect x="134.7" y="777.3" width="9" height="9"/>
<rect x="140.5" y="780.2" width="9" height="9"/>
<rect x="150.7" y="780.2" width="9" height="9"/>
<rect x="137.6" y="786" width="9" height="9"/>
<rect x="144.9" y="786" width="9" height="9"/>
<rect x="153.7" y="788.9" width="9" height="9"/>
<rect x="155.1" y="791.9" width="9" height="9"/>
<rect x="147.8" y="790.4" width="9" height="9"/>
<rect x="115" y="770.7" width="9" height="9"/>
<rect x="168.8" y="790" width="9" height="9"/>
<rect x="177.2" y="789.7" width="9" height="9"/>
<rect x="181.1" y="808" width="9" height="9"/>
<rect x="168.8" y="804.5" width="9" height="9"/>
<rect x="173.8" y="821" width="9" height="9"/>
<rect x="169.4" y="823.9" width="9" height="9"/>
<rect x="189.2" y="830.5" width="9" height="9"/>
<rect x="260.5" y="829" width="9" height="9"/>
<rect x="290.7" y="766.7" width="9" height="9"/>
<rect x="136.7" y="787.7" width="9" height="9"/>
<rect x="154.2" y="792.8" width="9" height="9"/>
<rect x="153.5" y="805.9" width="9" height="9"/>
<rect x="147.7" y="818.8" width="9" height="9"/>
<rect x="155.7" y="814.7" width="9" height="9"/>
<rect x="161.5" y="820.5" width="9" height="9"/>
<rect x="168.8" y="824.9" width="9" height="9"/>
<rect x="173.2" y="823.5" width="9" height="9"/>
<rect x="165.9" y="829.3" width="9" height="9"/>
<rect x="167.4" y="838.1" width="9" height="9"/>
<rect x="180.5" y="843.9" width="9" height="9"/>
<rect x="189.3" y="848.3" width="9" height="9"/>
<rect x="187.8" y="854.1" width="9" height="9"/>
<rect x="193.7" y="857" width="9" height="9"/>
<rect x="205.3" y="852.7" width="9" height="9"/>
<rect x="209.7" y="855.6" width="9" height="9"/>
<rect x="208.3" y="860" width="9" height="9"/>
<rect x="172.8" y="876.1" width="9" height="9"/>
<rect x="203.9" y="880.4" width="9" height="9"/>
<rect x="209.7" y="874.5" width="9" height="9"/>
<rect x="218.5" y="868.7" width="9" height="9"/>
<rect x="222.9" y="874.5" width="9" height="9"/>
<rect x="237.2" y="852.9" width="9" height="9"/>
<rect x="249.6" y="856.9" width="9" height="9"/>
<rect x="293.4" y="851" width="9" height="9"/>
<rect x="225.5" y="872.2" width="9" height="9"/>
<rect x="229.9" y="879.5" width="9" height="9"/>
<rect x="234.2" y="886.8" width="9" height="9"/>
<rect x="216.7" y="884.6" width="9" height="9"/>
<rect x="208" y="882.5" width="9" height="9"/>
<rect x="250.3" y="879.5" width="9" height="9"/>
<rect x="245.9" y="886.8" width="9" height="9"/>
<rect x="256.9" y="890.5" width="9" height="9"/>
<rect x="245.9" y="901.4" width="9" height="9"/>
<rect x="256.9" y="899.2" width="9" height="9"/>
<rect x="259.1" y="905.1" width="9" height="9"/>
<rect x="237.2" y="905.1" width="9" height="9"/>
<rect x="231.1" y="912" width="9" height="9"/>
<rect x="233.5" y="919" width="9" height="9"/>
<rect x="249.6" y="911.5" width="9" height="9"/>
<rect x="272.9" y="902.7" width="9" height="9"/>
<rect x="271.5" y="916" width="9" height="9"/>
<rect x="263.5" y="919" width="9" height="9"/>
<rect x="286.5" y="919.5" width="9" height="9"/>
<rect x="302.5" y="898.5" width="9" height="9"/>
<rect x="301.6" y="916.2" width="9" height="9"/>
<rect x="316.1" y="912.4" width="9" height="9"/>
<rect x="308.4" y="924.5" width="9" height="9"/>
<rect x="312.8" y="923.4" width="9" height="9"/>
<rect x="298.5" y="929.9" width="9" height="9"/>
<rect x="308.4" y="938.7" width="9" height="9"/>
<rect x="308.4" y="950.7" width="9" height="9"/>
<rect x="299" y="961.7" width="9" height="9"/>
<rect x="350" y="877.4" width="9" height="9"/>
<rect x="342.3" y="937" width="9" height="9"/>
<rect x="359.9" y="933.2" width="9" height="9"/>
<rect x="353.3" y="949.7" width="9" height="9"/>
<rect x="346.7" y="959.5" width="9" height="9"/>
<rect x="365.3" y="956.2" width="9" height="9"/>
<rect x="357.7" y="966.1" width="9" height="9"/>
<rect x="372.5" y="974.4" width="9" height="9"/>
<rect x="388.3" y="963.2" width="9" height="9"/>
<rect x="398.6" y="953.4" width="9" height="9"/>
<rect x="414.6" y="919.4" width="9" height="9"/>
<rect x="420.1" y="970.5" width="9" height="9"/>
<rect x="463.3" y="979.5" width="9" height="9"/>
<rect x="633.6" y="1024.4" width="9" height="9"/>
<rect x="247.8" y="932.7" width="9" height="9"/>
<rect x="271.3" y="937.7" width="9" height="9"/>
<rect x="284.8" y="927.6" width="9" height="9"/>
<rect x="113.5" y="715.5" width="9" height="9"/>
<rect x="115.5" y="723.5" width="9" height="9"/>
<rect x="114.5" y="728.5" width="9" height="9"/>
<rect x="121.5" y="740.5" width="9" height="9"/>
<rect x="126.5" y="744.5" width="9" height="9"/>
<rect x="123.5" y="748.5" width="9" height="9"/>
<rect x="129.5" y="752.5" width="9" height="9"/>
<rect x="132.5" y="756.5" width="9" height="9"/>
<rect x="127.5" y="757.5" width="9" height="9"/>
<rect x="134.5" y="761.5" width="9" height="9"/>
<rect x="131.5" y="765.5" width="9" height="9"/>
<rect x="136.5" y="767.5" width="9" height="9"/>
<rect x="139.5" y="772.5" width="9" height="9"/>
<rect x="134.5" y="773.5" width="9" height="9"/>
<rect x="142.5" y="775.5" width="9" height="9"/>
<rect x="136.5" y="780.5" width="9" height="9"/>
<rect x="141.5" y="783.5" width="9" height="9"/>
<rect x="146.5" y="786.5" width="9" height="9"/>
<rect x="151.5" y="790.5" width="9" height="9"/>
<rect x="143.5" y="790.5" width="9" height="9"/>
<rect x="136.5" y="790.5" width="9" height="9"/>
<rect x="143.5" y="791.5" width="9" height="9"/>
<rect x="150.5" y="792.5" width="9" height="9"/>
<rect x="155.5" y="794.5" width="9" height="9"/>
<rect x="140.5" y="795.5" width="9" height="9"/>
<rect x="152.5" y="804.5" width="9" height="9"/>
<rect x="156.5" y="808.5" width="9" height="9"/>
<rect x="153.5" y="811.5" width="9" height="9"/>
<rect x="165.5" y="820.5" width="9" height="9"/>
<rect x="170.5" y="824.5" width="9" height="9"/>
<rect x="173.5" y="828.5" width="9" height="9"/>
<rect x="167.5" y="826.5" width="9" height="9"/>
<rect x="171.5" y="821.5" width="9" height="9"/>
<rect x="180.5" y="843.5" width="9" height="9"/>
<rect x="183.5" y="846.5" width="9" height="9"/>
<rect x="189.5" y="852.5" width="9" height="9"/>
<rect x="194.5" y="857.5" width="9" height="9"/>
<rect x="191.5" y="859.5" width="9" height="9"/>
<rect x="205.5" y="853.5" width="9" height="9"/>
<rect x="209.5" y="857.5" width="9" height="9"/>
<rect x="207.5" y="860.5" width="9" height="9"/>
<rect x="211.5" y="854.5" width="9" height="9"/>
<rect x="217.5" y="868.5" width="9" height="9"/>
<rect x="221.5" y="873.5" width="9" height="9"/>
<rect x="223.5" y="878.5" width="9" height="9"/>
<rect x="209.5" y="851.5" width="9" height="9"/>
<rect x="211.5" y="857.5" width="9" height="9"/>
<rect x="215.5" y="867.5" width="9" height="9"/>
<rect x="221.5" y="871.5" width="9" height="9"/>
<rect x="226.5" y="875.5" width="9" height="9"/>
<rect x="231.5" y="880.5" width="9" height="9"/>
<rect x="223.5" y="879.5" width="9" height="9"/>
<rect x="247.5" y="899.5" width="9" height="9"/>
<rect x="253.5" y="897.5" width="9" height="9"/>
<rect x="257.5" y="903.5" width="9" height="9"/>
<rect x="270.5" y="915.5" width="9" height="9"/>
<rect x="273.5" y="913.5" width="9" height="9"/>
<rect x="286.5" y="919.5" width="9" height="9"/>
<rect x="284.5" y="922.5" width="9" height="9"/>
<rect x="303.5" y="920.5" width="9" height="9"/>
<rect x="308.8" y="939.5" width="9" height="9"/>
<rect x="308.5" y="951.5" width="9" height="9"/>
<rect x="347" y="960" width="9" height="9"/>
<rect x="388.5" y="962.5" width="9" height="9"/>
<rect x="308.5" y="925" width="9" height="9"/>
<rect x="169.5" y="790.5" width="9" height="9"/>
<rect x="168.5" y="805" width="9" height="9"/>
</g>
<rect x="70.3" y="593" width="612.9" height="456.6" fill="none" stroke="#000" stroke-width="1.8"/>
<path d="M88.95 1049.6v6.3M218.47 1049.6v6.3M347.99 1049.6v6.3M477.51 1049.6v6.3M607.03 1049.6v6.3M70.3 598.7h-6.3M70.3 673.94h-6.3M70.3 749.18h-6.3M70.3 824.42h-6.3M70.3 899.66h-6.3M70.3 974.9h-6.3" stroke="#000" stroke-width="1.8" fill="none"/>
<g font-size="28.4"><text x="88.95" y="1083.2" text-anchor="middle" font-size="28.4">0</text><text x="218.47" y="1083.2" text-anchor="middle" font-size="28.4">1</text><text x="347.99" y="1083.2" text-anchor="middle" font-size="28.4">2</text><text x="477.51" y="1083.2" text-anchor="middle" font-size="28.4">3</text><text x="607.03" y="1083.2" text-anchor="middle" font-size="28.4">4</text><text x="58.4" y="609.2" text-anchor="end" font-size="28.4" letter-spacing="-0.25">6</text><text x="58.4" y="684.44" text-anchor="end" font-size="28.4" letter-spacing="-0.25">5</text><text x="58.4" y="759.68" text-anchor="end" font-size="28.4" letter-spacing="-0.25">4</text><text x="58.4" y="834.92" text-anchor="end" font-size="28.4" letter-spacing="-0.25">3</text><text x="58.4" y="910.16" text-anchor="end" font-size="28.4" letter-spacing="-0.25">2</text><text x="58.4" y="985.4" text-anchor="end" font-size="28.4" letter-spacing="-0.25">1</text><text x="70.3" y="587.8" font-size="28.4">1e1</text><text x="683.2" y="1114.3" text-anchor="end" font-size="28.4">1e1</text></g>
<rect x="553.1" y="606.75" width="116.4" height="89.1" rx="5" ry="5" fill="#fff" fill-opacity="0.8" stroke="#d2d2d2" stroke-width="2"/>
<g class="m" fill="rgb(191,191,0)" stroke="#000" stroke-width="2.1"><path d="M591.6 624.4L595.8 631.4L591.6 638.4L587.4 631.4Z"/></g>
<g class="m" fill="#00f" stroke="#000" stroke-width="2.1"><rect x="587.1" y="667.2" width="9" height="9"/></g>
<text x="641.3" y="639.2" font-size="28.4">0</text>
<text x="641.3" y="679.4" font-size="28.4">1</text>
<text font-size="27.4"><tspan x="303.05" y="1120.5">⟨</tspan><tspan x="313.74" y="1120.5">(</tspan><tspan x="345.98" y="1120.5">+</tspan><tspan x="390.5" y="1120.5">)</tspan><tspan x="414.4" y="1120.5">⟩</tspan><tspan x="425.09" y="1120.5">/</tspan><tspan x="433.31" y="1120.5">2</tspan><tspan x="324.43" y="1120.5" font-style="oblique">x</tspan><tspan x="374.28" y="1120.5" font-style="oblique">y</tspan><tspan x="401.45" y="1110.01" font-size="19.18">2</tspan></text>
<g transform="translate(25.5 895.1) rotate(-90)"><text font-size="27.4"><tspan x="0" y="0">⟨</tspan><tspan x="10.69" y="0">(</tspan><tspan x="42.93" y="0">−</tspan><tspan x="87.44" y="0">)</tspan><tspan x="111.35" y="0">⟩</tspan><tspan x="122.04" y="0">/</tspan><tspan x="130.25" y="0">2</tspan><tspan x="21.38" y="0" font-style="oblique">x</tspan><tspan x="71.23" y="0" font-style="oblique">y</tspan><tspan x="98.4" y="-10.49" font-size="19.18">2</tspan></text></g>
</svg></body></html>
